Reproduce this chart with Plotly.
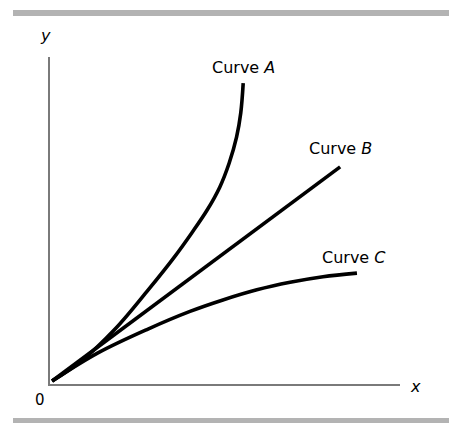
import plotly.graph_objects as go

# Data (arbitrary units, axes 0-10)
curve_a_x = [0.06, 0.89, 1.86, 2.80, 3.53, 4.05, 4.49, 4.85, 5.12, 5.33, 5.45, 5.52]
curve_a_y = [0.09, 0.70, 1.68, 2.87, 3.85, 4.62, 5.32, 6.02, 6.76, 7.55, 8.29, 9.20]
curve_b_x = [0.06, 8.29]
curve_b_y = [0.09, 6.64]
curve_c_x = [0.06, 1.37, 2.80, 4.00, 4.94, 5.91, 6.86, 7.80, 8.77]
curve_c_y = [0.09, 0.95, 1.68, 2.22, 2.57, 2.88, 3.11, 3.28, 3.39]

labels = ["Curve <i>A</i>", "Curve <i>B</i>", "Curve <i>C</i>"]
label_x = [5.54, 8.31, 8.69]
label_y = [9.69, 7.19, 3.88]

FONT = "DejaVu Sans"

fig = go.Figure()
for xs, ys in [(curve_a_x, curve_a_y), (curve_b_x, curve_b_y), (curve_c_x, curve_c_y)]:
    fig.add_trace(go.Scatter(x=xs, y=ys, mode="lines",
                             line=dict(color="black", width=3.6, shape="spline", smoothing=1.0),
                             hoverinfo="skip", showlegend=False))

annotations = []
for t, lx, ly in zip(labels, label_x, label_y):
    annotations.append(dict(x=lx, y=ly, xref="x", yref="y", text=t, showarrow=False,
                            xanchor="center", yanchor="middle",
                            font=dict(family=FONT, size=16, color="black")))
annotations += [
    dict(x=-0.014, y=1.067, xref="paper", yref="paper", text="<i>y</i>", showarrow=False,
         xanchor="center", yanchor="middle", font=dict(family=FONT, size=16, color="black")),
    dict(x=1.043, y=-0.009, xref="paper", yref="paper", text="<i>x</i>", showarrow=False,
         xanchor="center", yanchor="middle", font=dict(family=FONT, size=16, color="black")),
    dict(x=-0.029, y=-0.049, xref="paper", yref="paper", text="0", showarrow=False,
         xanchor="center", yanchor="middle", font=dict(family=FONT, size=15, color="black")),
]

shapes = [
    dict(type="rect", xref="paper", yref="paper", x0=-0.1057, x1=1.1429, y0=1.1254, y1=1.1437,
         fillcolor="#b3b3b3", line=dict(width=0), layer="below"),
    dict(type="rect", xref="paper", yref="paper", x0=-0.1057, x1=1.1429, y0=-0.125, y1=-0.104,
         fillcolor="#b3b3b3", line=dict(width=0), layer="below"),
]

fig.update_layout(
    width=457, height=423,
    margin=dict(l=42, r=65, t=49, b=47),
    paper_bgcolor="white", plot_bgcolor="white",
    xaxis=dict(range=[0, 10], showgrid=False, zeroline=False, showticklabels=False,
               ticks="", showline=True, linecolor="#7a7a7a", linewidth=2, fixedrange=True),
    yaxis=dict(range=[0, 10], showgrid=False, zeroline=False, showticklabels=False,
               ticks="", showline=True, linecolor="#7a7a7a", linewidth=2, fixedrange=True),
    annotations=annotations,
    shapes=shapes,
)

fig.write_html("out.html")
